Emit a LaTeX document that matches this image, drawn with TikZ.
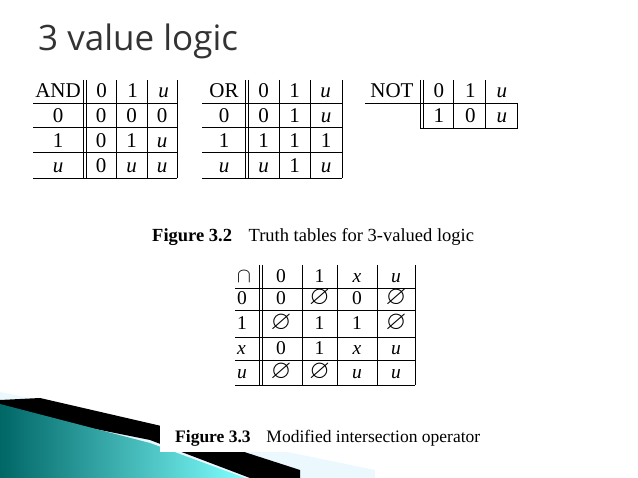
\documentclass[tikz,border=0pt]{standalone}
\usepackage{fontspec}
\usepackage{amssymb}
\setmainfont{Liberation Serif}
\newfontfamily\titlefont{Open Sans}
\newcommand{\es}{\scalebox{1.35}{$\varnothing$}}
\begin{document}
\begin{tikzpicture}[x=1pt,y=-1pt,
  grid/.style={line width=0.9pt,black},
  cell/.style={inner sep=0pt,anchor=base,font=\fontsize{21}{21}\selectfont},
  cellb/.style={inner sep=0pt,anchor=base,font=\fontsize{19.5}{19.5}\selectfont},
  figcap/.style={inner sep=0pt,anchor=base west}]
\useasboundingbox (0,0) rectangle (638,478);
% decoration
\fill[cyan!8] (0,392) -- (180,430) -- (375,470) -- (375,478) -- (0,478) -- cycle;
\fill[black] (40,398) -- (170,428) -- (300,470) -- (300,478) -- (250,478) -- (150,440) -- (0,410) -- (0,400) -- cycle;
\shade[left color=teal!80!black, right color=cyan!50!white] (0,404) -- (150,443) -- (245,478) -- (0,478) -- cycle;
\fill[white] (160,424) rectangle (480,452);
% title
\node[anchor=base west,inner sep=0pt,text=black!80,font=\titlefont\fontsize{35}{35}\selectfont] (title) at (38,51) {3 value logic};
% AND table
\draw[grid] (33,103) -- (177,103) (33,127) -- (177,127) (33,152) -- (177,152) (33,178) -- (177,178);
\draw[grid] (83,80) -- (83,178) (86,80) -- (86,178) (116,80) -- (116,178) (147,80) -- (147,178) (177,80) -- (177,178);
\node[cell] (a00) at (58,98) {AND};
\foreach \t [count=\i] in {0,1,\textit{u}} \node[cell] (ah\i) at ({86+31*(\i-0.5)},98) {\t};
\foreach \t [count=\i] in {0,1,\textit{u}} \node[cell] (ar\i) at (58,{110+25*(\i-0.5)}) {\t};
\foreach \r/\a/\b/\c in {1/0/0/0,2/0/1/\textit{u},3/0/\textit{u}/\textit{u}}{
  \node[cell] at (101,{110+25*(\r-0.5)}) {\a};
  \node[cell] at (131.5,{110+25*(\r-0.5)}) {\b};
  \node[cell] at (162,{110+25*(\r-0.5)}) {\c};}
% OR table
\draw[grid] (202,103) -- (342,103) (202,127) -- (342,127) (202,152) -- (342,152) (202,178) -- (342,178);
\draw[grid] (245,80) -- (245,178) (248,80) -- (248,178) (279,80) -- (279,178) (310,80) -- (310,178) (342,80) -- (342,178);
\node[cell] (o00) at (224,98) {OR};
\foreach \t [count=\i] in {0,1,\textit{u}} \node[cell] (oh\i) at ({248+31*(\i-0.5)},98) {\t};
\foreach \t [count=\i] in {0,1,\textit{u}} \node[cell] (or\i) at (224,{110+25*(\i-0.5)}) {\t};
\foreach \r/\a/\b/\c in {1/0/1/\textit{u},2/1/1/1,3/\textit{u}/1/\textit{u}}{
  \node[cell] at (263.5,{110+25*(\r-0.5)}) {\a};
  \node[cell] at (294.5,{110+25*(\r-0.5)}) {\b};
  \node[cell] at (326,{110+25*(\r-0.5)}) {\c};}
% NOT table
\draw[grid] (365,103) -- (518,103) (420,128) -- (518,128);
\draw[grid] (420,80) -- (420,128) (423,80) -- (423,128) (453,80) -- (453,128) (485,80) -- (485,128) (517,103) -- (517,128);
\node[cell] (n00) at (392,98) {NOT};
\foreach \t [count=\i] in {0,1,\textit{u}} \node[cell] (nh\i) at ({423+31.5*(\i-0.5)},98) {\t};
\foreach \t [count=\i] in {1,0,\textit{u}} \node[cell] (nr\i) at ({423+31.5*(\i-0.5)},123) {\t};
% caption 3.2
\node[figcap,font=\fontsize{18.5}{18.5}\selectfont] (c32) at (152,242) {\textbf{Figure 3.2}\hspace{0.9em}Truth tables for 3-valued logic};
% intersection table
\foreach \y in {288,310,337,360,385} \draw[grid] (235,\y) -- (415,\y);
\foreach \x in {259,262,302,337,377,415} \draw[grid] (\x,265) -- (\x,385);
\def\ys{{282.5,305,330,354.5,378.5}}
\node[cellb,anchor=base west] (i00) at (237,282.5) {$\cap$};
\foreach \t [count=\i] in {0,1,\textit{x},\textit{u}}
  \node[cellb,anchor=base west] (il\i) at (237,{\ys[\i]}) {\t};
\foreach \t/\x in {0/281,1/319.5,\textit{x}/357,\textit{u}/396}
  \node[cellb] at (\x,282.5) {\t};
\foreach \r/\a/\b/\c/\d in {1/0/\es/0/\es,2/\es/1/1/\es,3/0/1/\textit{x}/\textit{u},4/\es/\es/\textit{u}/\textit{u}}{
  \node[cellb] at (281,{\ys[\r]}) {\a};
  \node[cellb] at (319.5,{\ys[\r]}) {\b};
  \node[cellb] at (357,{\ys[\r]}) {\c};
  \node[cellb] at (396,{\ys[\r]}) {\d};}
\node[figcap,font=\fontsize{17.5}{17.5}\selectfont] (c33) at (175,443) {\textbf{Figure 3.3}\hspace{0.9em}Modified intersection operator};
\end{tikzpicture}
\end{document}
